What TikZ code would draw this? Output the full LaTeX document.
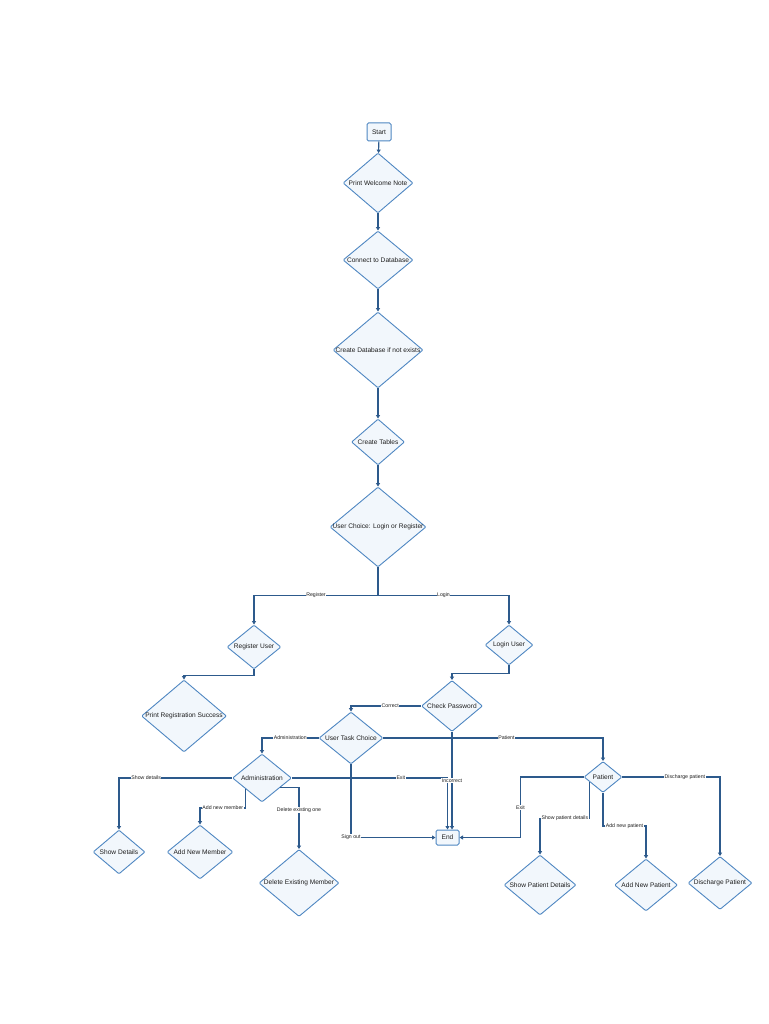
\documentclass[tikz,border=0pt]{standalone}
\usepackage{fontspec}
\setmainfont{Liberation Sans}
\usetikzlibrary{shapes.geometric,arrows.meta,calc}
\definecolor{dstroke}{HTML}{4F87C2}
\definecolor{dfill}{HTML}{F2F7FC}
\definecolor{connc}{HTML}{2D5A8C}
\definecolor{txt}{HTML}{1E1E1E}
\newcommand\zw[1]{\makebox[0pt]{#1}}
\begin{document}
\begin{tikzpicture}[x=1pt,y=-1pt,
  dec/.style args={#1/#2}{diamond, draw=dstroke, fill=dfill, line width=0.9pt, inner sep=0pt,
     minimum width=#1, minimum height=#2, rounded corners=1pt, text=txt, font=\fontsize{6.6}{7}\selectfont},
  term/.style={draw=dstroke, fill=dfill, line width=1pt, rounded corners=1.5pt, minimum width=24,
     minimum height=18, inner sep=0pt, text=txt, font=\fontsize{6.6}{7}\selectfont},
  conn/.style={draw=connc, line width=1.1pt, -{Triangle[length=3.5pt,width=4pt]}},
  elab/.style={fill=white, inner sep=0.6pt, text=txt, font=\fontsize{5.2}{5.5}\selectfont}]
\useasboundingbox (0,0) rectangle (768,1024);
\fill[white] (0,0) rectangle (768,1024);

\node[term] (start) at (379,132) {Start};
\node[dec=70/60] (pw) at (378,183) {\zw{Print Welcome Note}};
\node[dec=70/58] (cd) at (378,260) {\zw{Connect to Database}};
\node[dec=90/76] (cdb) at (378,350) {\zw{Create Database if not exists}};
\node[dec=53/46] (ct) at (378,442) {\zw{Create Tables}};
\node[dec=96/80] (uc) at (378,527) {\zw{User Choice: Login or Register}};
\node[dec=54/44] (reg) at (254,647) {\zw{Register User}};
\node[dec=48/40] (login) at (509,645) {\zw{Login User}};
\node[dec=85/72] (prs) at (184,716) {\zw{Print Registration Success}};
\node[dec=61/51] (cp) at (452,706) {\zw{Check Password}};
\node[dec=64/52] (utc) at (351,738) {\zw{User Task Choice}};
\node[dec=59/48] (adm) at (262,778) {\zw{Administration}};
\node[dec=38/31] (pat) at (603,777) {\zw{Patient}};
\node[term, minimum width=23, minimum height=15] (end) at (447.5,837.5) {End};
\node[dec=52/44] (sd) at (119,852) {\zw{Show Details}};
\node[dec=66/54] (anm) at (200,852) {\zw{Add New Member}};
\node[dec=80/67] (dem) at (299,883) {\zw{Delete Existing Member}};
\node[dec=72/60] (spd) at (540,885) {\zw{Show Patient Details}};
\node[dec=63/52] (anp) at (646,885) {\zw{Add New Patient}};
\node[dec=64/53] (dp) at (720,883) {\zw{Discharge Patient}};

\coordinate (admsw) at ($(adm.west)!0.45!(adm.south)$);
\coordinate (admse) at ($(adm.east)!0.4!(adm.south)$);
\coordinate (patsw) at ($(pat.west)!0.32!(pat.south)$);

\draw[conn] (start) -- (pw);
\draw[conn] (pw) -- (cd);
\draw[conn] (cd) -- (cdb);
\draw[conn] (cdb) -- (ct);
\draw[conn] (ct) -- (uc);
\draw[conn] (uc.south) -- ++(0,28) -| node[elab, pos=0.25] (lreg) {Register} (reg.north);
\draw[conn] (uc.south) -- ++(0,28) -| node[elab, pos=0.25] (llog) {Login} (login.north);
\draw[conn] (reg.south) -- ++(0,6) -| (prs.north);
\draw[conn] (login.south) -- ++(0,8) -| (cp.north);
\draw[conn] (cp.west) -| node[elab, pos=0.22] (lcor) {Correct} (utc.north);
\draw[conn] (utc.west) -| node[elab, pos=0.25] (ladm) {Administration} (adm.north);
\draw[conn] (utc.east) -| node[elab, pos=0.28] (lpat) {Patient} (pat.north);
\draw[conn] (adm.east) -| node[elab, pos=0.35] (lexit) {Exit} (end.north);
\draw[conn] (cp.south) -- node[elab, pos=0.5] (linc) {Incorrect} (cp.south |- end.north);
\draw[conn] (utc.south) |- node[elab, pos=0.5] (lsign) {Sign out} (end.west);
\draw[conn] (pat.west) -- ++(-63,0) |- node[elab, pos=0.25] (lpexit) {Exit} (end.east);
\draw[conn] (adm.west) -| node[elab, pos=0.38] (lsd) {Show details} (sd.north);
\draw[conn] (admsw) -- ++(0,19) -| node[elab, pos=0.25] (lanm) {Add new member} (anm.north);
\draw[conn] (admse) -| node[elab, pos=0.685] (ldem) {Delete existing one} (dem.north);
\draw[conn] (patsw) -- ++(0,36) -| node[elab, pos=0.25] (lspd) {Show patient details} (spd.north);
\draw[conn] (pat.south) -- ++(0,33) -| node[elab, pos=0.25] (lanp) {Add new patient} (anp.north);
\draw[conn] (pat.east) -| node[elab, pos=0.32] (ldp) {Discharge patient} (dp.north);
\end{tikzpicture}
\end{document}
